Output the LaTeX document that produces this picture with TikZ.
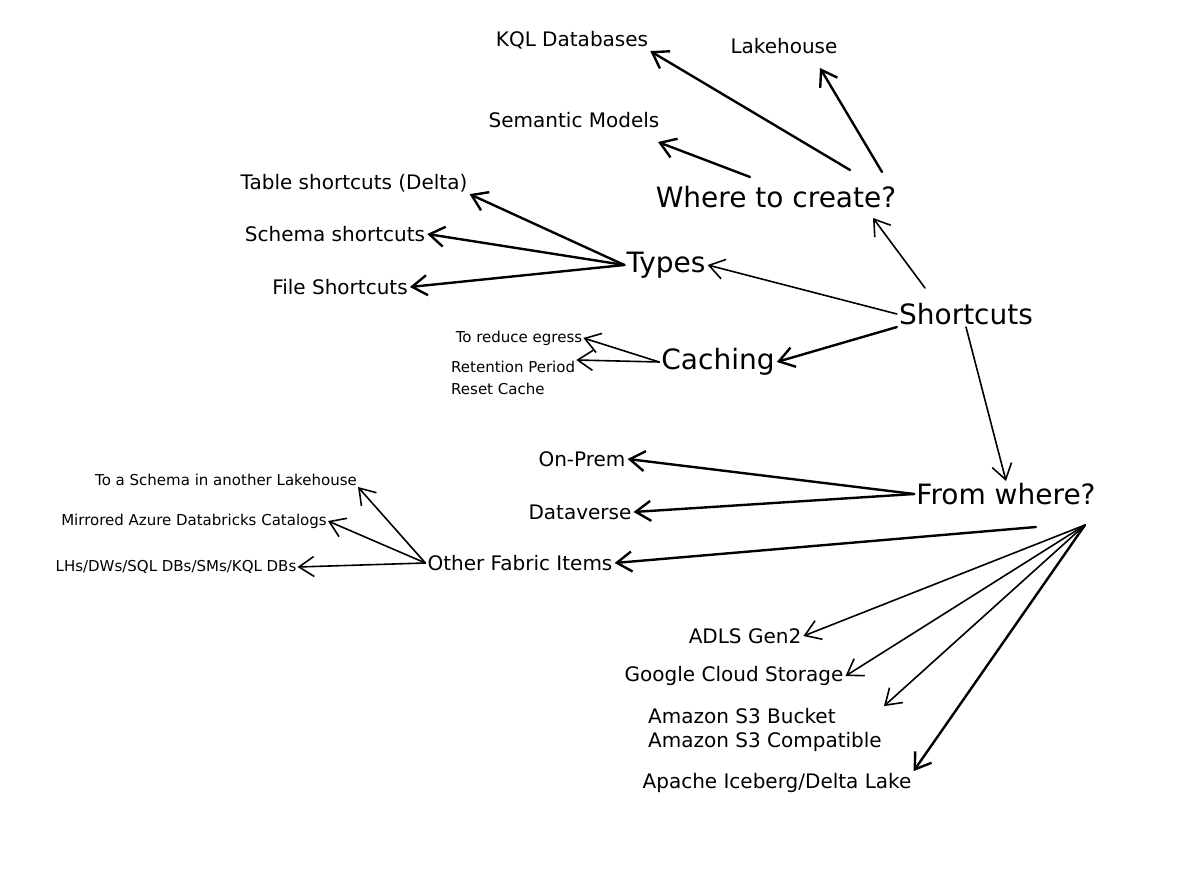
\documentclass[tikz,border=0pt]{standalone}
\usepackage{fontspec}
\setmainfont{DejaVu Sans}
\usetikzlibrary{arrows.meta}

\begin{document}
\begin{tikzpicture}[
        x=1pt, y=-1pt,
        lbl/.style = {inner sep=2pt, font=\fontsize{20}{24}\selectfont},
        big/.style = {inner sep=2pt, font=\fontsize{28}{30}\selectfont},
        small/.style = {inner sep=1pt, align=left, font=\fontsize{15}{22}\selectfont},
        arrow/.style = {-{Straight Barb[length=15pt, width=20pt]}, line width=2.4pt, line cap=round},
        thin arrow/.style = {arrow, line width=1.6pt}
        ]
        \useasboundingbox (0,0) rectangle (1186,874);

        % Knoten
        \node[lbl] (kql) at (572,40) {KQL Databases};
        \node[lbl] (lake) at (784,46) {Lakehouse};
        \node[lbl] (sem) at (574,120) {Semantic Models};
        \node[big] (where) at (776,197) {Where to create?};
        \node[lbl] (table) at (354,183) {Table shortcuts (Delta)};
        \node[lbl] (schema) at (335,234) {Schema shortcuts};
        \node[lbl] (file) at (340,287) {File Shortcuts};
        \node[big] (types) at (666,265) {Types};
        \node[big] (short) at (966,314) {Shortcuts};
        \node[small] (egress) at (519,338) {To reduce egress};
        \node[small, anchor=north west] (ret) at (450,360) {Retention Period\\Reset Cache};
        \node[big] (cach) at (718,362) {Caching};
        \node[lbl] (onprem) at (582,459) {On-Prem};
        \node[lbl] (dverse) at (580,512) {Dataverse};
        \node[big] (from) at (1006,494) {From where?};
        \node[small] (toschema) at (226,480) {To a Schema in another Lakehouse};
        \node[small] (mirror) at (194,521) {Mirrored Azure Databricks Catalogs};
        \node[small] (lhs) at (176,567) {LHs/DWs/SQL DBs/SMs/KQL DBs};
        \node[lbl] (other) at (520,563) {Other Fabric Items};
        \node[lbl] (adls) at (745,636) {ADLS Gen2};
        \node[lbl] (gcs) at (734,676) {Google Cloud Storage};
        \node[lbl, align=left] (s3) at (765,730) {Amazon S3 Bucket\\Amazon S3 Compatible};
        \node[lbl] (ice) at (777,783) {Apache Iceberg/Delta Lake};
        \coordinate (fw) at (1085,525);
        \coordinate (fwl) at (1036,527);
        \coordinate (kqlfrom) at (850,170);
        \coordinate (lakefrom) at (882,172);
        \coordinate (semfrom) at (750,177);
        \coordinate (semto) at (658,142);
        \coordinate (lketo) at (820,68);
        \coordinate (wto) at (873,218);
        \coordinate (sfrom) at (925,288);

        % Pfeile
        \draw[arrow] (kqlfrom) -- (kql.south east);
        \draw[arrow] (lakefrom) -- (lketo);
        \draw[arrow] (semfrom) -- (semto);
        \draw[thin arrow] (sfrom) -- (wto);
        \draw[arrow] (types.west) -- (table.south east);
        \draw[arrow] (types.west) -- (schema.east);
        \draw[arrow] (types.west) -- (file.east);
        \draw[thin arrow] (short.west) -- (types.east);
        \draw[arrow] (short.south west) -- (cach.east);
        \draw[thin arrow] (cach.west) -- (egress.east);
        \draw[thin arrow] (cach.west) -- (ret.north east);
        \draw[thin arrow] (short.south) -- (from.north);
        \draw[arrow] (from.west) -- (onprem.east);
        \draw[arrow] (from.west) -- (dverse.east);
        \draw[arrow] (fwl) -- (other.east);
        \draw[thin arrow] (other.west) -- (toschema.south east);
        \draw[thin arrow] (other.west) -- (mirror.east);
        \draw[thin arrow] (other.west) -- (lhs.east);
        \draw[thin arrow] (fw) -- (adls.east);
        \draw[thin arrow] (fw) -- (gcs.east);
        \draw[thin arrow] (fw) -- (s3.north east);
        \draw[arrow] (fw) -- (ice.north east);

\end{tikzpicture}
\end{document}
